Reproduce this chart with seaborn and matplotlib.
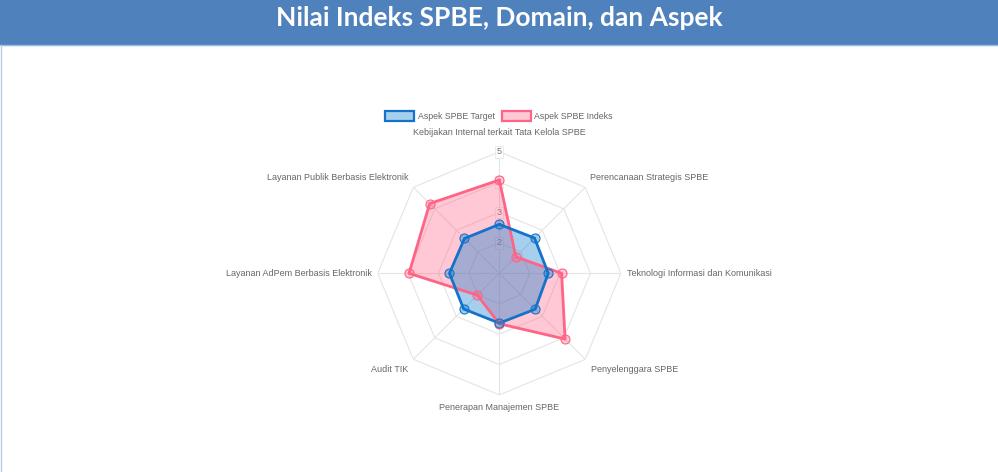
import matplotlib
matplotlib.use("Agg")
import matplotlib.pyplot as plt
from matplotlib.lines import Line2D
from matplotlib.patches import Patch, Rectangle
import numpy as np
import seaborn as sns

TITLE = "Nilai Indeks SPBE, Domain, dan Aspek"
ASPEK = [
    "Kebijakan Internal terkait Tata Kelola SPBE",
    "Perencanaan Strategis SPBE",
    "Teknologi Informasi dan Komunikasi",
    "Penyelenggara SPBE",
    "Penerapan Manajemen SPBE",
    "Audit TIK",
    "Layanan AdPem Berbasis Elektronik",
    "Layanan Publik Berbasis Elektronik",
]
TARGET = [2.61, 2.64, 2.61, 2.67, 2.64, 2.66, 2.64, 2.62]
INDEKS = [4.07, 1.77, 3.05, 4.06, 2.66, 2.02, 3.97, 4.24]
RING_TICKS = [2, 3, 4, 5]
R_MIN, R_MAX = 1, 5

BLUE_LINE = (0.08, 0.45, 0.79)
BLUE_FILL = (0.0, 0.47, 0.80, 0.35)
PINK_LINE = (1.0, 0.39, 0.52)
PINK_FILL = (1.0, 0.39, 0.52, 0.35)
GRID = "#e4e4e4"
TEXT = "#666666"

W, H = 998, 472

sns.set_theme(style="white")
plt.rcParams["font.family"] = ["Liberation Sans", "DejaVu Sans"]

fig = plt.figure(figsize=(W / 100, H / 100), dpi=100)
fig.patch.set_facecolor("white")

# header bar
bar_h = 45 / H
fig.add_artist(Rectangle((0, 1 - bar_h), 1, bar_h, transform=fig.transFigure,
                         facecolor="#4f81bd", edgecolor="none"))
fig.add_artist(Line2D([0, 1], [1 - bar_h, 1 - bar_h], transform=fig.transFigure,
                      color="#9bb7dc", lw=1))
fig.add_artist(Line2D([0.5 / W, 0.5 / W], [0, 1 - bar_h], transform=fig.transFigure,
                      color="#b8cce6", lw=1))
fig.text(0.5, 1 - 26 / H, TITLE, ha="center", va="baseline", color="white",
         fontsize=19, fontweight="bold", family=["Lato", "DejaVu Sans"])

# radar axes, centred on the chart area
radius = 121.6
cx, cy = 499.3 / W, (H - 273.3) / H
aw, ah = 2 * radius / W, 2 * radius / H
ax = fig.add_axes([cx - aw / 2, cy - ah / 2, aw, ah], projection="polar")
ax.set_theta_zero_location("N")
ax.set_theta_direction(-1)
ax.set_facecolor("none")

n = len(ASPEK)
angles = np.arange(n) * 2 * np.pi / n
closed = np.append(angles, 2 * np.pi)

# polygon grid + angle lines
for r in RING_TICKS:
    ax.plot(closed, [r] * (n + 1), color=GRID, lw=0.8, zorder=0)
for t in angles:
    ax.plot([t, t], [R_MIN, R_MAX], color=GRID, lw=0.8, zorder=0)

# ring tick labels on the top axis
for r in RING_TICKS:
    ax.text(0, r, str(r), ha="center", va="center", fontsize=6.5, color="#777777",
            zorder=1, bbox=dict(boxstyle="square,pad=0.15", facecolor="white",
                                edgecolor="#e4e4e4", lw=0.5))

# datasets: Indeks first, Target on top
for vals, line, fill in [(INDEKS, PINK_LINE, PINK_FILL), (TARGET, BLUE_LINE, BLUE_FILL)]:
    loop = vals + vals[:1]
    ax.fill(closed, loop, color=fill, lw=0, zorder=2)
    sns.lineplot(x=closed, y=loop, sort=False, estimator=None, color=line, lw=2,
                 ax=ax, zorder=3)
    sns.lineplot(x=angles, y=vals, sort=False, estimator=None, linestyle="",
                 marker="o", markersize=6.5, markerfacecolor=fill,
                 markeredgecolor=line, markeredgewidth=0.8, ax=ax, zorder=4)

# point labels
offsets = [
    ((0, 19), "center"),
    ((5, 10), "left"),
    ((6, 0), "left"),
    ((6, -10), "left"),
    ((0, -13), "center"),
    ((-5, -10), "right"),
    ((-6, 0), "right"),
    ((-5, 10), "right"),
]
for t, label, (off, ha) in zip(angles, ASPEK, offsets):
    ax.annotate(label, xy=(t, R_MAX), xytext=off, textcoords="offset pixels",
                ha=ha, va="center", fontsize=6.5, color=TEXT, annotation_clip=False)

ax.set_ylim(R_MIN, R_MAX)
ax.set_xticks([])
ax.set_yticks([])
ax.grid(False)
ax.spines["polar"].set_visible(False)
ax.set_xlabel("")
ax.set_ylabel("")

handles = [
    Patch(facecolor=BLUE_FILL, edgecolor=BLUE_LINE, lw=1.6),
    Patch(facecolor=PINK_FILL, edgecolor=PINK_LINE, lw=1.6),
]
fig.legend(handles, ["Aspek SPBE Target", "Aspek SPBE Indeks"], loc="center",
           bbox_to_anchor=(0.5, 1 - 116 / H), ncol=2, frameon=False, fontsize=6.3,
           handlelength=3.3, handleheight=1.5, handletextpad=0.45, columnspacing=0.8,
           labelcolor=TEXT)

fig.savefig("out.png", dpi=100)
